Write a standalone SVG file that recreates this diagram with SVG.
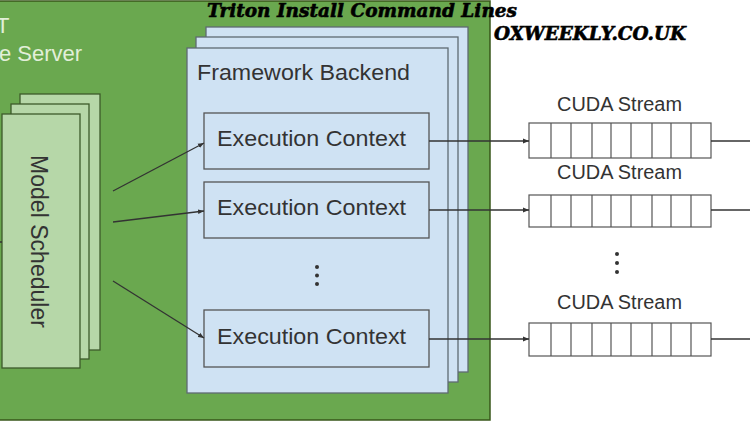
<svg xmlns="http://www.w3.org/2000/svg" width="750" height="422" viewBox="0 0 750 422">
<defs>
<style>
.ttl{font-family:"DejaVu Serif","Liberation Serif",serif;font-weight:bold;font-style:italic;fill:#000;stroke:#000;stroke-width:0.6}
.lbl{font-family:"Liberation Sans",Arial,sans-serif;fill:#333}
.fb{fill:#cfe2f3;stroke:#5f6a72;stroke-width:1.3}
.ms{fill:#b6d7a8;stroke:#3d5a2a;stroke-width:1.3}
.ec{fill:#cfe2f3;stroke:#555;stroke-width:1.3}
.q{fill:#fff;stroke:#555;stroke-width:1.2}
.cn{stroke:#333;stroke-width:1.3;fill:none}
</style>
<marker id="ah" viewBox="0 0 10 10" refX="10" refY="5" markerWidth="6" markerHeight="6" orient="auto" markerUnits="userSpaceOnUse">
<path d="M0,1 L10,5 L0,9 z" fill="#333"/>
</marker>
</defs>
<rect x="0" y="0" width="750" height="422" fill="#fff"/>
<g id="server">
<rect x="-2" y="1" width="492" height="419" fill="#6aa84f" stroke="#38571a" stroke-width="1.5"/>
<text x="-4" y="33" font-family="Liberation Sans,Arial,sans-serif" font-size="22" fill="#e2efd9">T</text>
<text x="-1" y="61" font-family="Liberation Sans,Arial,sans-serif" font-size="22" fill="#e2efd9">e Server</text>
</g>
<g id="model-scheduler">
<rect class="ms" x="20" y="94" width="80" height="256"/>
<rect class="ms" x="11" y="104" width="78" height="255"/>
<rect class="ms" x="2" y="114" width="78" height="254"/>
<text class="lbl" x="0" y="0" font-size="23" text-anchor="middle" textLength="173" lengthAdjust="spacingAndGlyphs" transform="translate(31 241.5) rotate(90)">Model Scheduler</text>
</g>
<g id="framework-backend">
<rect class="fb" x="206" y="27" width="262" height="345"/>
<rect class="fb" x="196" y="37" width="262" height="345"/>
<rect class="fb" x="187" y="48" width="261" height="345"/>
<text class="lbl" x="197" y="80" font-size="22" textLength="213" lengthAdjust="spacingAndGlyphs">Framework Backend</text>
<circle cx="317" cy="267" r="2" fill="#333"/>
<circle cx="317" cy="275.5" r="2" fill="#333"/>
<circle cx="317" cy="284" r="2" fill="#333"/>
</g>
<g id="exec-context-1">
<rect class="ec" x="204" y="113" width="225" height="56"/>
<text class="lbl" x="217" y="145.5" font-size="22" textLength="189" lengthAdjust="spacingAndGlyphs">Execution Context</text>
</g>
<g id="exec-context-2">
<rect class="ec" x="204" y="182" width="225" height="56"/>
<text class="lbl" x="217" y="214.5" font-size="22" textLength="189" lengthAdjust="spacingAndGlyphs">Execution Context</text>
</g>
<g id="exec-context-3">
<rect class="ec" x="204" y="310" width="225" height="57"/>
<text class="lbl" x="217" y="343.5" font-size="22" textLength="189" lengthAdjust="spacingAndGlyphs">Execution Context</text>
</g>
<g id="cuda-stream-1">
<text class="lbl" x="619.5" y="110.5" font-size="19.5" text-anchor="middle" textLength="125" lengthAdjust="spacingAndGlyphs">CUDA Stream</text>
<rect class="q" x="529" y="123" width="182" height="35"/>
<path class="q" d="M551,123V158M571,123V158M592,123V158M611,123V158M631,123V158M652,123V158M671,123V158M691,123V158"/>
</g>
<g id="cuda-stream-2">
<text class="lbl" x="619.5" y="179" font-size="19.5" text-anchor="middle" textLength="125" lengthAdjust="spacingAndGlyphs">CUDA Stream</text>
<rect class="q" x="529" y="195" width="182" height="32"/>
<path class="q" d="M551,195V227M571,195V227M592,195V227M611,195V227M631,195V227M652,195V227M671,195V227M691,195V227"/>
</g>
<g id="stream-dots">
<circle cx="617" cy="254" r="2" fill="#333"/>
<circle cx="617" cy="263" r="2" fill="#333"/>
<circle cx="617" cy="272" r="2" fill="#333"/>
</g>
<g id="cuda-stream-3">
<text class="lbl" x="619.5" y="308.5" font-size="19.5" text-anchor="middle" textLength="125" lengthAdjust="spacingAndGlyphs">CUDA Stream</text>
<rect class="q" x="529" y="323" width="182" height="33"/>
<path class="q" d="M551,323V356M571,323V356M592,323V356M611,323V356M631,323V356M652,323V356M671,323V356M691,323V356"/>
</g>
<g id="connectors">
<line class="cn" x1="0" y1="242" x2="2" y2="242"/>
<line class="cn" x1="113" y1="191" x2="204" y2="143" marker-end="url(#ah)"/>
<line class="cn" x1="113" y1="222" x2="204" y2="211" marker-end="url(#ah)"/>
<line class="cn" x1="113" y1="281" x2="204" y2="338" marker-end="url(#ah)"/>
<line class="cn" x1="429" y1="141" x2="529" y2="141" marker-end="url(#ah)"/>
<line class="cn" x1="429" y1="210" x2="529" y2="210" marker-end="url(#ah)"/>
<line class="cn" x1="429" y1="339" x2="529" y2="339" marker-end="url(#ah)"/>
<line class="cn" x1="711" y1="141" x2="750" y2="141"/>
<line class="cn" x1="711" y1="210" x2="750" y2="210"/>
<line class="cn" x1="711" y1="339" x2="750" y2="339"/>
</g>
<g id="title">
<text class="ttl" x="207" y="17" font-size="19" textLength="310" lengthAdjust="spacingAndGlyphs">Triton Install Command Lines</text>
<text class="ttl" x="494" y="40" font-size="18" textLength="192" lengthAdjust="spacingAndGlyphs">OXWEEKLY.CO.UK</text>
</g>
</svg>
